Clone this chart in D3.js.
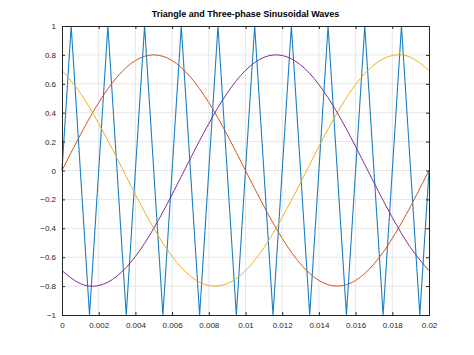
<!DOCTYPE html>
<html>
<head>
<meta charset="utf-8">
<script src="https://cdn.jsdelivr.net/npm/d3@7"></script>
<style>
  body { margin: 0; background: #fff; }
  text { font-family: "Liberation Sans", Arial, sans-serif; }
</style>
</head>
<body>
<svg id="chart"></svg>
<script>
// Chart configuration
const W = 474, H = 355;
const margin = { top: 26, right: 45, bottom: 40, left: 62 };
const width = W - margin.left - margin.right;
const height = H - margin.top - margin.bottom;

// Triangle carrier (vertices)
const triT = [0, 0.0005, 0.0015, 0.0025, 0.0035, 0.0045, 0.0055, 0.0065, 0.0075, 0.0085, 0.0095,
  0.0105, 0.0115, 0.0125, 0.0135, 0.0145, 0.0155, 0.0165, 0.0175, 0.0185, 0.0195, 0.02];
const triV = [0, 1, -1, 1, -1, 1, -1, 1, -1, 1, -1, 1, -1, 1, -1, 1, -1, 1, -1, 1, -1, 0];

// Sinusoids sampled every 1 ms
const sinT = [0, 0.001, 0.002, 0.003, 0.004, 0.005, 0.006, 0.007, 0.008, 0.009, 0.01,
  0.011, 0.012, 0.013, 0.014, 0.015, 0.016, 0.017, 0.018, 0.019, 0.02];
const phaseA = [0, 0.247, 0.470, 0.647, 0.761, 0.8, 0.761, 0.647, 0.470, 0.247, 0,
  -0.247, -0.470, -0.647, -0.761, -0.8, -0.761, -0.647, -0.470, -0.247, 0];
const phaseB = [0.693, 0.535, 0.325, 0.084, -0.166, -0.4, -0.595, -0.731, -0.796, -0.783, -0.693,
  -0.535, -0.325, -0.084, 0.166, 0.4, 0.595, 0.731, 0.796, 0.783, 0.693];
const phaseC = [-0.693, -0.783, -0.796, -0.731, -0.595, -0.4, -0.166, 0.084, 0.325, 0.535, 0.693,
  0.783, 0.796, 0.731, 0.595, 0.4, 0.166, -0.084, -0.325, -0.535, -0.693];

const xTicks = [0, 0.002, 0.004, 0.006, 0.008, 0.01, 0.012, 0.014, 0.016, 0.018, 0.02];
const yTicks = [-1, -0.8, -0.6, -0.4, -0.2, 0, 0.2, 0.4, 0.6, 0.8, 1];

const svg = d3.select("#chart").attr("width", W).attr("height", H);
const g = svg.append("g").attr("transform", `translate(${margin.left},${margin.top})`);

const x = d3.scaleLinear().domain([0, 0.02]).range([0, width]);
const y = d3.scaleLinear().domain([-1, 1]).range([height, 0]);

// grid
g.append("g").selectAll("line").data(xTicks.slice(1, -1)).join("line")
  .attr("x1", d => x(d)).attr("x2", d => x(d)).attr("y1", 0).attr("y2", height)
  .attr("stroke", "#e6e6e6").attr("stroke-width", 1);
g.append("g").selectAll("line").data(yTicks.slice(1, -1)).join("line")
  .attr("y1", d => y(d)).attr("y2", d => y(d)).attr("x1", 0).attr("x2", width)
  .attr("stroke", "#e6e6e6").attr("stroke-width", 1);

// series
const line = d3.line().x(d => x(d[0])).y(d => y(d[1]));
const smooth = d3.line().x(d => x(d[0])).y(d => y(d[1])).curve(d3.curveNatural);

g.append("path").datum(d3.zip(triT, triV)).attr("d", line)
  .attr("fill", "none").attr("stroke", "#1a7fc4").attr("stroke-width", 1.1);
[[phaseA, "#D95319"], [phaseB, "#EDB120"], [phaseC, "#7E2F8E"]].forEach(([vals, col]) => {
  g.append("path").datum(d3.zip(sinT, vals)).attr("d", smooth)
    .attr("fill", "none").attr("stroke", col).attr("stroke-width", 1);
});

// axes (MATLAB-style box with inward ticks)
const axisCol = "#262626";
const styleAxis = sel => {
  sel.select(".domain").attr("stroke", axisCol);
  sel.selectAll(".tick line").attr("stroke", axisCol);
  sel.selectAll(".tick text").attr("fill", axisCol).style("font-size", "8px")
    .style("font-family", "'Liberation Sans', Arial, sans-serif");
};
g.append("g").attr("transform", `translate(0,${height})`)
  .call(d3.axisBottom(x).tickValues(xTicks).tickSize(-3).tickPadding(7).tickFormat(d3.format("~g")))
  .call(styleAxis);
g.append("g")
  .call(d3.axisLeft(y).tickValues(yTicks).tickSize(-3).tickPadding(6).tickFormat(d3.format("~g")))
  .call(styleAxis);
g.append("g")
  .call(d3.axisTop(x).tickValues(xTicks).tickSize(-3).tickFormat(""))
  .call(styleAxis);
g.append("g").attr("transform", `translate(${width},0)`)
  .call(d3.axisRight(y).tickValues(yTicks).tickSize(-3).tickFormat(""))
  .call(styleAxis);
g.selectAll(".domain").attr("stroke-width", 1);

// title
svg.append("text").attr("x", margin.left + width / 2).attr("y", 17)
  .attr("text-anchor", "middle").style("font-size", "9px").style("font-weight", "bold")
  .attr("fill", "#000").text("Triangle and Three-phase Sinusoidal Waves");
</script>
</body>
</html>
